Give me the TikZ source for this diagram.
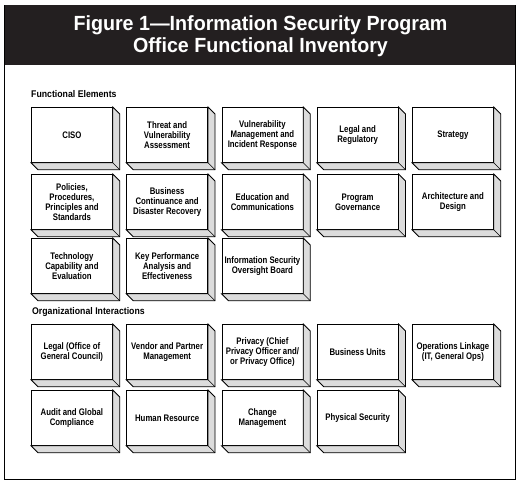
\documentclass[tikz,border=0pt]{standalone}
\usepackage{fontspec}
\setmainfont{Liberation Sans}
\newfontfamily\boxfont[FakeStretch=0.82]{Liberation Sans}
\newfontfamily\labfont[FakeStretch=0.9]{Liberation Sans}
\newfontfamily\ttlfont[FakeStretch=0.96]{Liberation Sans}
\definecolor{barblack}{HTML}{231F20}
\definecolor{sidegray}{HTML}{DCDCDC}
\tikzset{
  x=1pt, y=-1pt,
  frontface/.style={draw=black, fill=white, line width=0.8pt, rectangle,
    minimum width=81pt, minimum height=55pt, inner sep=1pt, anchor=north west,
    align=center, font=\boxfont\bfseries\fontsize{9.5}{10}\selectfont},
  sideface/.style={draw=black, fill=sidegray, line width=0.8pt, line join=miter},
  seclabel/.style={anchor=base west, inner sep=0pt, font=\labfont\bfseries\fontsize{9.7}{11}\selectfont},
  titletext/.style={text=white, align=center, inner sep=0pt, font=\ttlfont\bfseries\fontsize{20.5}{22}\selectfont}
}
\newcommand\cubebox[4]{%
  \node[frontface] (#1) at (#2,#3) {#4};
  \filldraw[sideface] (#1.north east) -- ++(7,7) -- ([shift={(7,7)}]#1.south east)
    -- ([shift={(7,7)}]#1.south west) -- (#1.south west) -- (#1.south east) -- cycle;
  \draw[line width=0.6pt] (#1.south east) -- ++(7,7);
}
\begin{document}
\begin{tikzpicture}
\useasboundingbox (0,0) rectangle (520,480);
\fill[white] (0,0) rectangle (520,480);
\draw[line width=0.9pt] (4.5,5) rectangle (515,479);
\fill[barblack] (4.5,5) rectangle (515,65);
\node[titletext] (title) at (260.5,36) {Figure 1—Information Security Program\\Office Functional Inventory};
\node[seclabel] (fe) at (31,97) {Functional Elements};
\node[seclabel] (oi) at (32,314.5) {Organizational Interactions};
% row 1
\cubebox{ciso}{31}{107}{CISO}
\cubebox{threat}{126.25}{107}{Threat and\\Vulnerability\\Assessment}
\cubebox{vuln}{221.5}{107}{Vulnerability\\Management and\\Incident Response}
\cubebox{legal}{316.75}{107}{Legal and\\Regulatory}
\cubebox{strat}{412}{107}{Strategy}
% row 2
\cubebox{policies}{31}{174}{Policies,\\Procedures,\\Principles and\\Standards}
\cubebox{bcdr}{126.25}{174}{Business\\Continuance and\\Disaster Recovery}
\cubebox{edu}{221.5}{174}{Education and\\Communications}
\cubebox{gov}{316.75}{174}{Program\\Governance}
\cubebox{arch}{412}{174}{Architecture and\\Design}
% row 3
\cubebox{tech}{31}{238}{Technology\\Capability and\\Evaluation}
\cubebox{kpa}{126.25}{238}{Key Performance\\Analysis and\\Effectiveness}
\cubebox{isob}{221.5}{238}{Information Security\\Oversight Board}
% row 4
\cubebox{ogc}{31}{324}{Legal (Office of\\General Council)}
\cubebox{vendor}{126.25}{324}{Vendor and Partner\\Management}
\cubebox{privacy}{221.5}{324}{Privacy (Chief\\Privacy Officer and/\\or Privacy Office)}
\cubebox{bu}{316.75}{324}{Business Units}
\cubebox{ops}{412}{324}{Operations Linkage\\(IT, General Ops)}
% row 5
\cubebox{audit}{31}{390}{Audit and Global\\Compliance}
\cubebox{hr}{126.25}{390}{Human Resource}
\cubebox{change}{221.5}{390}{Change\\Management}
\cubebox{phys}{316.75}{390}{Physical Security}
\end{tikzpicture}
\end{document}
